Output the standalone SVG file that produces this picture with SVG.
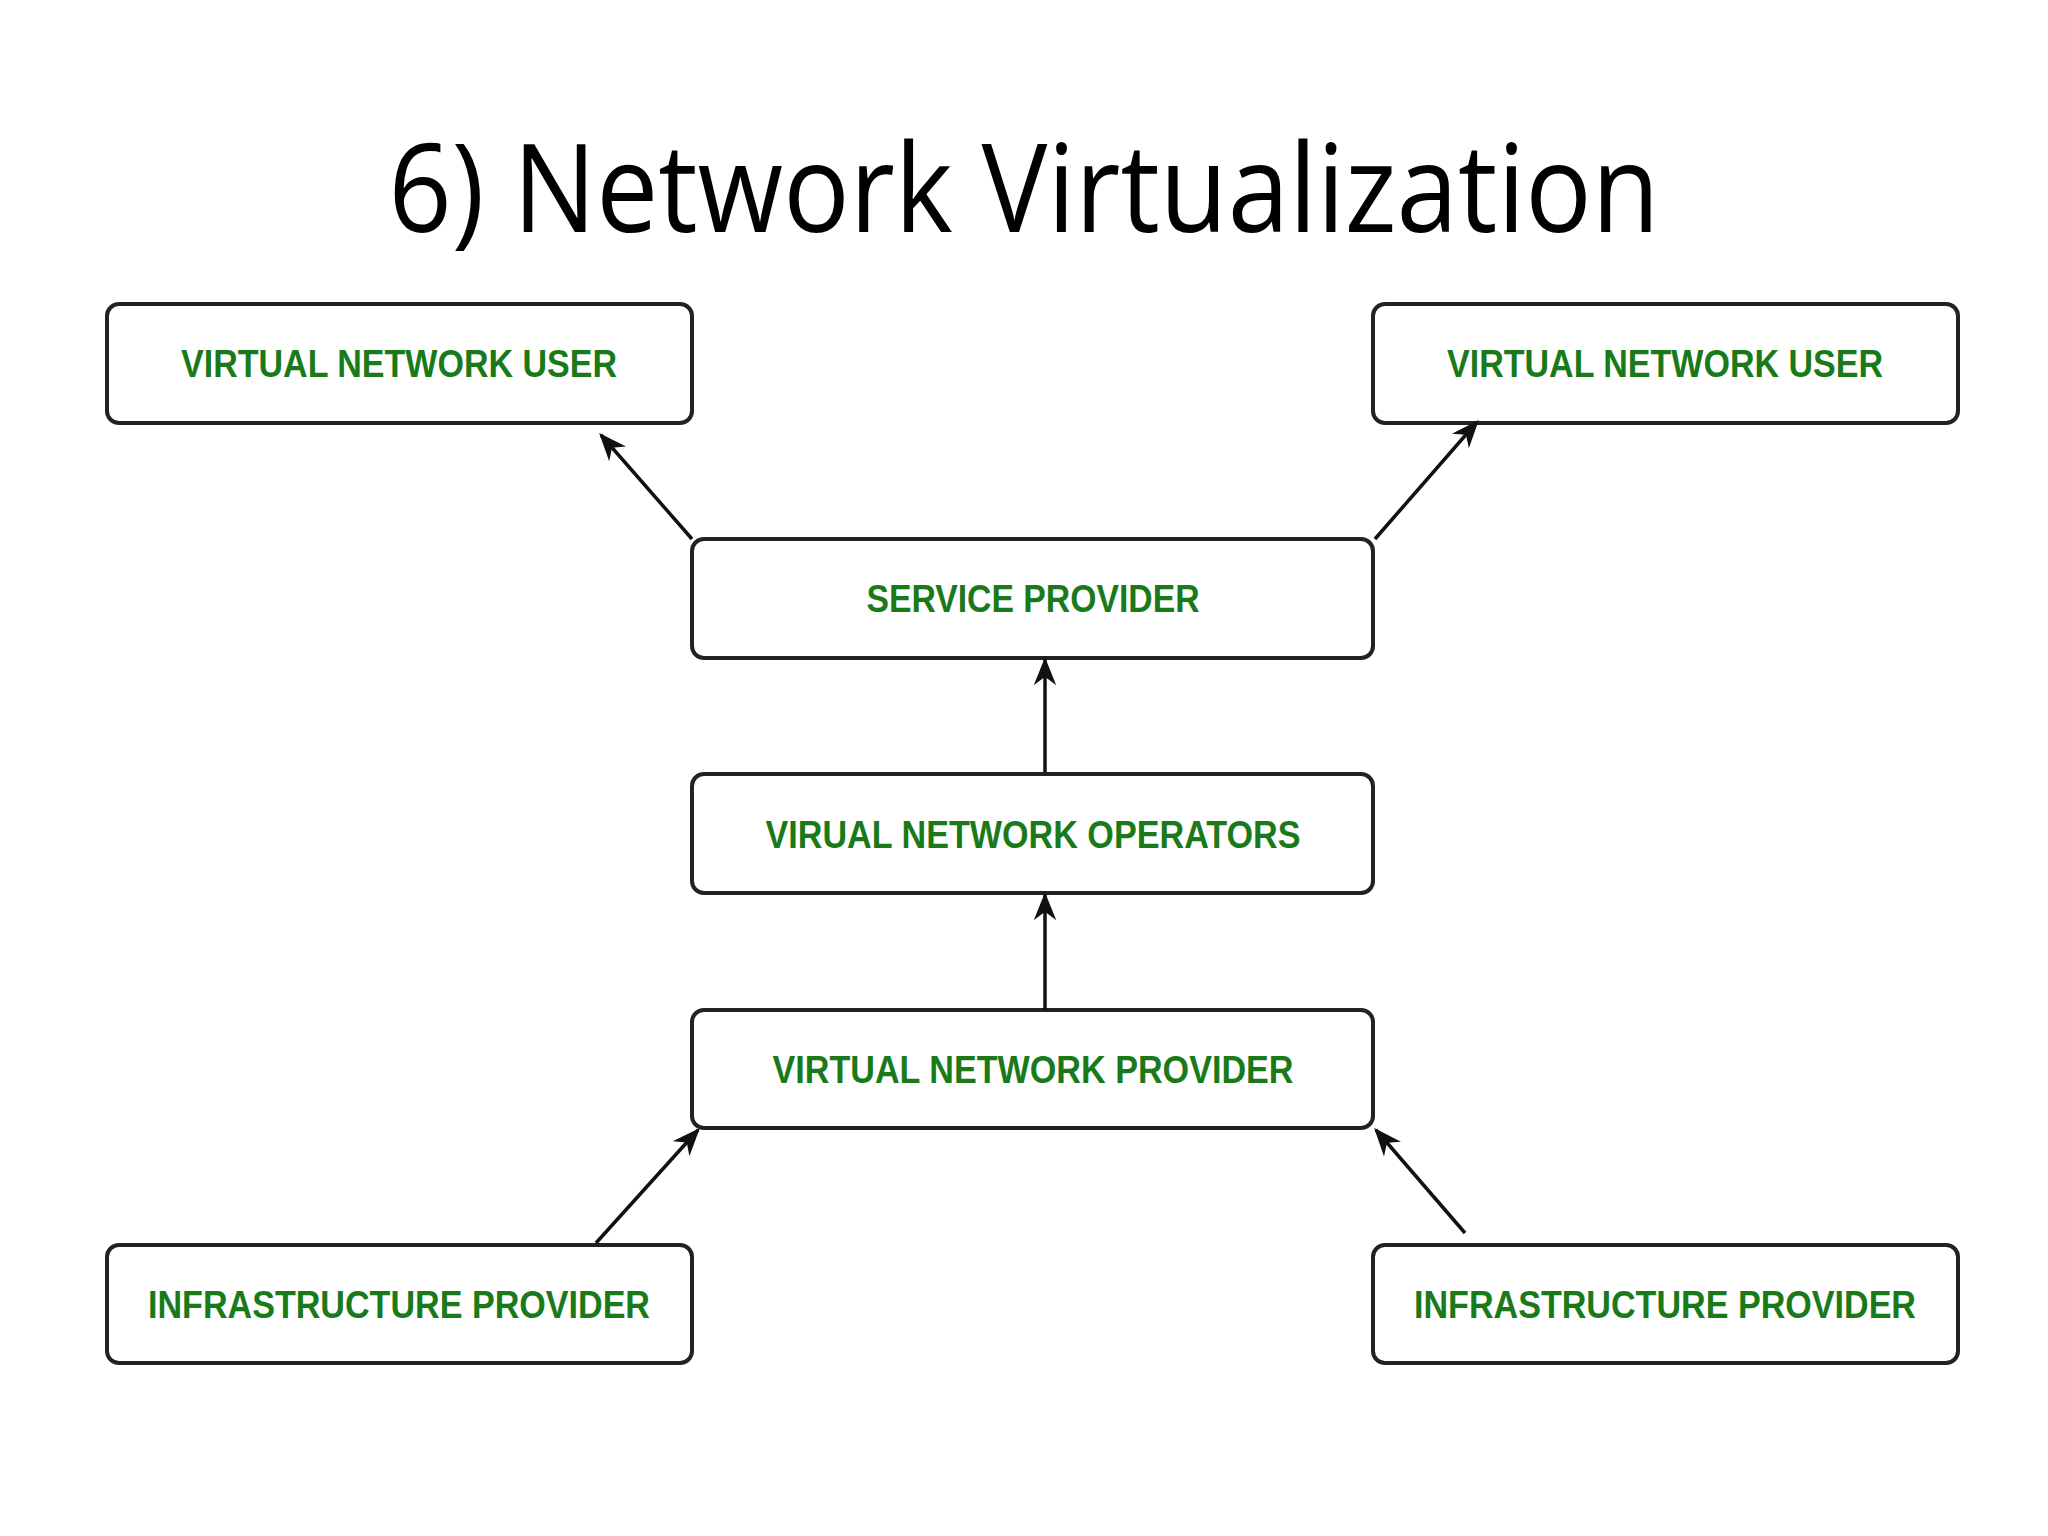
<svg xmlns="http://www.w3.org/2000/svg" width="2048" height="1536" viewBox="0 0 2048 1536">
<defs>
<style>
.box{fill:#fff;stroke:#222;stroke-width:4}
.lbl{fill:#1a7a1a;font-family:"Liberation Sans",Arial,sans-serif;font-weight:bold;font-size:38px;text-anchor:middle}
.c{stroke:#111;stroke-width:3.5;fill:none;marker-end:url(#ah)}
</style>
<marker id="ah" viewBox="0 0 20 20" refX="18" refY="10" markerWidth="28" markerHeight="28" markerUnits="userSpaceOnUse" orient="auto">
<path d="M0,2 L20,10 L0,18 L6,10 Z" fill="#111"/>
</marker>
</defs>
<rect width="2048" height="1536" fill="#fff"/>
<text x="1024" y="232" font-family="'Open Sans',sans-serif" font-size="122" text-anchor="middle" textLength="1271" lengthAdjust="spacingAndGlyphs" fill="#000">6) Network Virtualization</text>
<g id="user1"><rect class="box" x="107" y="304" width="585" height="119" rx="12"/><text class="lbl" x="399" y="377" textLength="436" lengthAdjust="spacingAndGlyphs">VIRTUAL NETWORK USER</text></g>
<g id="user2"><rect class="box" x="1373" y="304" width="585" height="119" rx="12"/><text class="lbl" x="1665" y="377" textLength="436" lengthAdjust="spacingAndGlyphs">VIRTUAL NETWORK USER</text></g>
<g id="sp"><rect class="box" x="692" y="539" width="681" height="119" rx="12"/><text class="lbl" x="1033" y="612" textLength="333" lengthAdjust="spacingAndGlyphs">SERVICE PROVIDER</text></g>
<g id="vno"><rect class="box" x="692" y="774" width="681" height="119" rx="12"/><text class="lbl" x="1033" y="848" textLength="535" lengthAdjust="spacingAndGlyphs">VIRUAL NETWORK OPERATORS</text></g>
<g id="vnp"><rect class="box" x="692" y="1010" width="681" height="118" rx="12"/><text class="lbl" x="1033" y="1083" textLength="521" lengthAdjust="spacingAndGlyphs">VIRTUAL NETWORK PROVIDER</text></g>
<g id="ip1"><rect class="box" x="107" y="1245" width="585" height="118" rx="12"/><text class="lbl" x="399" y="1318" textLength="502" lengthAdjust="spacingAndGlyphs">INFRASTRUCTURE PROVIDER</text></g>
<g id="ip2"><rect class="box" x="1373" y="1245" width="585" height="118" rx="12"/><text class="lbl" x="1665" y="1318" textLength="502" lengthAdjust="spacingAndGlyphs">INFRASTRUCTURE PROVIDER</text></g>
<g id="connectors">
<line class="c" x1="692" y1="539" x2="601" y2="435"/>
<line class="c" x1="1375" y1="539" x2="1477" y2="422"/>
<line class="c" x1="1045" y1="772" x2="1045" y2="660"/>
<line class="c" x1="1045" y1="1010" x2="1045" y2="895"/>
<line class="c" x1="596" y1="1243" x2="698" y2="1130"/>
<line class="c" x1="1465" y1="1233" x2="1376" y2="1130"/>
</g>
</svg>
